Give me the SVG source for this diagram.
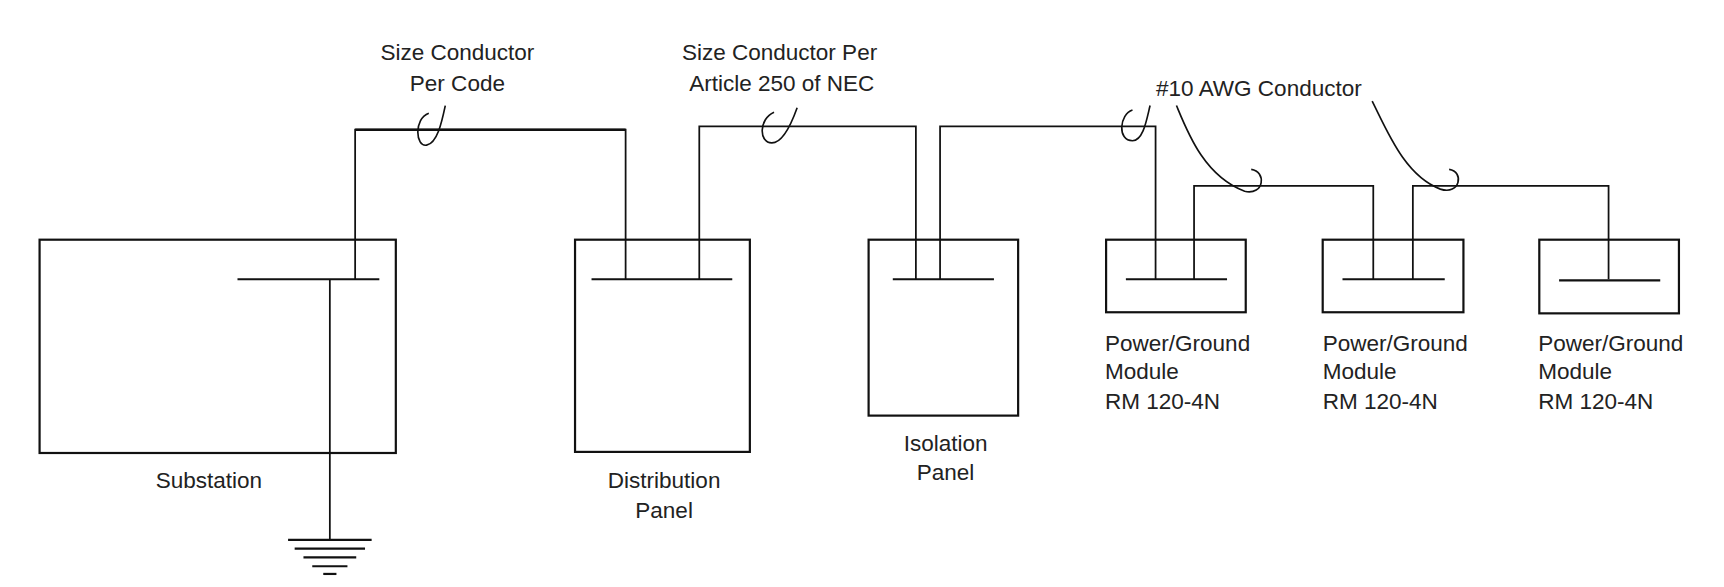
<svg xmlns="http://www.w3.org/2000/svg" width="1724" height="587" viewBox="0 0 1724 587">
<style>
.b{fill:none;stroke:#111;stroke-width:2}
.w{fill:none;stroke:#111;stroke-width:1.6}
.l{fill:none;stroke:#111;stroke-width:1.5}
text{font-family:"Liberation Sans",Arial,sans-serif;font-size:20.5px;fill:#222}
.c{text-anchor:middle}
</style>
<rect width="1724" height="587" fill="#fff"/>
<g transform="scale(1.0995)">
<g id="substation">
<rect class="b" x="36" y="218" width="324" height="194"/>
<line class="b" x1="216" y1="254" x2="345" y2="254"/>
<line class="w" x1="300" y1="254" x2="300" y2="491"/>
<line class="b" x1="262" y1="491" x2="338" y2="491"/>
<line class="b" x1="268" y1="499" x2="332" y2="499"/>
<line class="b" x1="276" y1="507" x2="324" y2="507"/>
<line class="b" x1="284" y1="515" x2="316" y2="515"/>
<line class="b" x1="294" y1="522" x2="306" y2="522"/>
<text class="c" x="190" y="444">Substation</text>
</g>
<g id="distribution">
<rect class="b" x="523" y="218" width="159" height="193"/>
<line class="b" x1="538" y1="254" x2="666" y2="254"/>
<text class="c" x="604" y="444">Distribution</text>
<text class="c" x="604" y="471">Panel</text>
</g>
<g id="isolation">
<rect class="b" x="790" y="218" width="136" height="160"/>
<line class="b" x1="812" y1="254" x2="904" y2="254"/>
<text class="c" x="860" y="410">Isolation</text>
<text class="c" x="860" y="437">Panel</text>
</g>
<g id="module1">
<rect class="b" x="1006" y="218" width="127" height="66"/>
<line class="b" x1="1024" y1="254" x2="1116" y2="254"/>
<text x="1005" y="319">Power/Ground</text><text x="1005" y="345">Module</text><text x="1005" y="372">RM 120-4N</text>
</g>
<g id="module2">
<rect class="b" x="1203" y="218" width="128" height="66"/>
<line class="b" x1="1221" y1="254" x2="1314" y2="254"/>
<text x="1203" y="319">Power/Ground</text><text x="1203" y="345">Module</text><text x="1203" y="372">RM 120-4N</text>
</g>
<g id="module3">
<rect class="b" x="1400" y="218" width="127" height="67"/>
<line class="b" x1="1418" y1="255" x2="1510" y2="255"/>
<text x="1399" y="319">Power/Ground</text><text x="1399" y="345">Module</text><text x="1399" y="372">RM 120-4N</text>
</g>
<g id="connectors">
<polyline class="w" points="323,254 323,118 569,118 569,254"/>
<line x1="323" y1="118" x2="569" y2="118" stroke="#111" stroke-width="2.4"/>
<polyline class="w" points="636,254 636,115 833,115 833,254"/>
<polyline class="w" points="855,254 855,115 1051,115 1051,254"/>
<polyline class="w" points="1086,254 1086,169 1249,169 1249,254"/>
<polyline class="w" points="1285,254 1285,169 1463,169 1463,254"/>
<path class="l" d="M405,96 C402,110 398,130 388,132 C378,134 376,108 390,103"/>
<path class="l" d="M725,98 C720,112 712,130 702,130 C690,130 690,108 704,102"/>
<path class="l" d="M1046,96 C1043,108 1040,128 1030,128 C1016,128 1018,104 1030,100"/>
<path class="l" d="M1070,96 C1080,120 1095,160 1132,174 C1150,178 1152,156 1138,154"/>
<path class="l" d="M1248,92 C1262,120 1278,160 1310,172 C1328,178 1332,156 1318,154"/>
<text class="c" x="416" y="55">Size Conductor</text>
<text class="c" x="416" y="83">Per Code</text>
<text class="c" x="709" y="55">Size Conductor Per</text>
<text class="c" x="711" y="83">Article 250 of NEC</text>
<text class="c" x="1145" y="87">#10 AWG Conductor</text>
</g>
</g>
</svg>
